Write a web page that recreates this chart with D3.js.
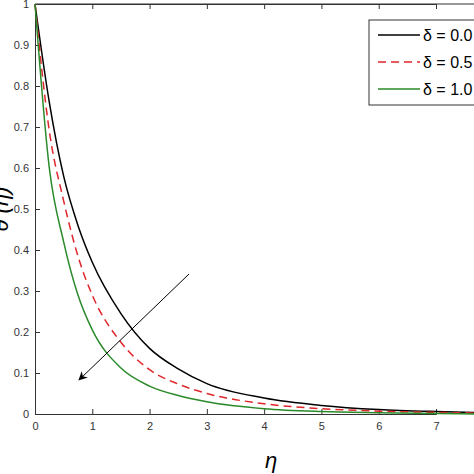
<!DOCTYPE html><html><head><script src="https://cdn.jsdelivr.net/npm/d3@7"></script>
<style>body{margin:0;background:#fff}text{font-family:"Liberation Sans",Arial,sans-serif}</style></head><body>
<svg id="c" width="474" height="474"></svg>
<script>
const xTicks=[0,1,2,3,4,5,6,7,8];
const yTicks=[0,0.1,0.2,0.3,0.4,0.5,0.6,0.7,0.8,0.9,1];
const labels=["\u03B4 = 0.0","\u03B4 = 0.5","\u03B4 = 1.0"];
const black=[[0,1],[0.25,0.76],[0.5,0.58],[0.75,0.46],[1,0.37],[1.5,0.245],[2,0.16],[2.5,0.11],[3,0.074],[4,0.039],[5,0.021],[6,0.011],[7,0.006],[8,0.003]];
const red=[[0,1],[0.25,0.69],[0.5,0.52],[0.75,0.385],[1,0.29],[1.5,0.175],[2,0.108],[2.5,0.073],[3,0.05],[4,0.025],[5,0.013],[6,0.007],[7,0.004],[8,0.002]];
const green=[[0,1],[0.25,0.6],[0.5,0.42],[0.75,0.29],[1,0.205],[1.5,0.112],[2,0.068],[2.5,0.045],[3,0.03],[4,0.013],[5,0.006],[6,0.003],[7,0.001],[8,0]];
const svg=d3.select("#c");
const x=d3.scaleLinear().domain([0,7]).range([35,436]);
const y=d3.scaleLinear().domain([0,1]).range([414,4]);
const g=svg.append("g");
g.append("line").attr("x1",35).attr("x2",474).attr("y1",4).attr("y2",4).attr("stroke","#333");
const xa=g.append("g").attr("transform","translate(0,414)").call(d3.axisBottom(x).tickValues(xTicks).tickSize(-5).tickPadding(8).tickFormat(d3.format("d")));
const ya=g.append("g").attr("transform","translate(35,0)").call(d3.axisLeft(y).tickValues(yTicks).tickSize(-5).tickPadding(6).tickFormat(d=>d===0||d===1?d:d3.format(".1f")(d)));
[xa,ya].forEach(a=>{a.selectAll("path,line").attr("stroke","#333");a.selectAll("text").attr("font-size",11).attr("fill","#333");});
g.append("g").attr("transform","translate(0,4)").call(d3.axisTop(x).tickValues(xTicks).tickSize(-5).tickFormat("")).selectAll("path,line").attr("stroke","#333");
const line=d3.line().x(d=>x(d[0])).y(d=>y(d[1])).curve(d3.curveMonotoneX);
const ser=[[black,"#000",null],[red,"#e0262b","8,5"],[green,"#2a8a2a",null]];
ser.forEach(s=>g.append("path").attr("d",line(s[0])).attr("fill","none").attr("stroke",s[1]).attr("stroke-width",1.5).attr("stroke-dasharray",s[2]));
svg.append("defs").append("marker").attr("id","ah").attr("viewBox","0 0 10 10").attr("refX",9).attr("refY",5).attr("markerWidth",9).attr("markerHeight",9).attr("orient","auto").append("path").attr("d","M0,0L10,5L0,10L3,5z").attr("fill","#000");
svg.append("line").attr("x1",189).attr("y1",274).attr("x2",79).attr("y2",380).attr("stroke","#000").attr("marker-end","url(#ah)");
const lg=svg.append("g");
lg.append("rect").attr("x",369).attr("y",20).attr("width",120).attr("height",85).attr("fill","#fff").attr("stroke","#333");
ser.forEach((s,i)=>{const yy=35+i*27;
lg.append("line").attr("x1",378).attr("x2",420).attr("y1",yy).attr("y2",yy).attr("stroke",s[1]).attr("stroke-width",1.5).attr("stroke-dasharray",s[2]);
lg.append("text").attr("x",423).attr("y",yy+6).attr("font-size",16).text(labels[i]);});
svg.append("text").attr("x",265).attr("y",468).attr("font-size",22).attr("font-style","italic").attr("font-family","Liberation Serif").text("\u03B7");
svg.append("text").attr("transform","translate(8,209) rotate(-90)").attr("text-anchor","middle").attr("font-size",22).attr("font-style","italic").attr("font-family","Liberation Serif").text("\u03B8 (\u03B7)");
</script></body></html>
